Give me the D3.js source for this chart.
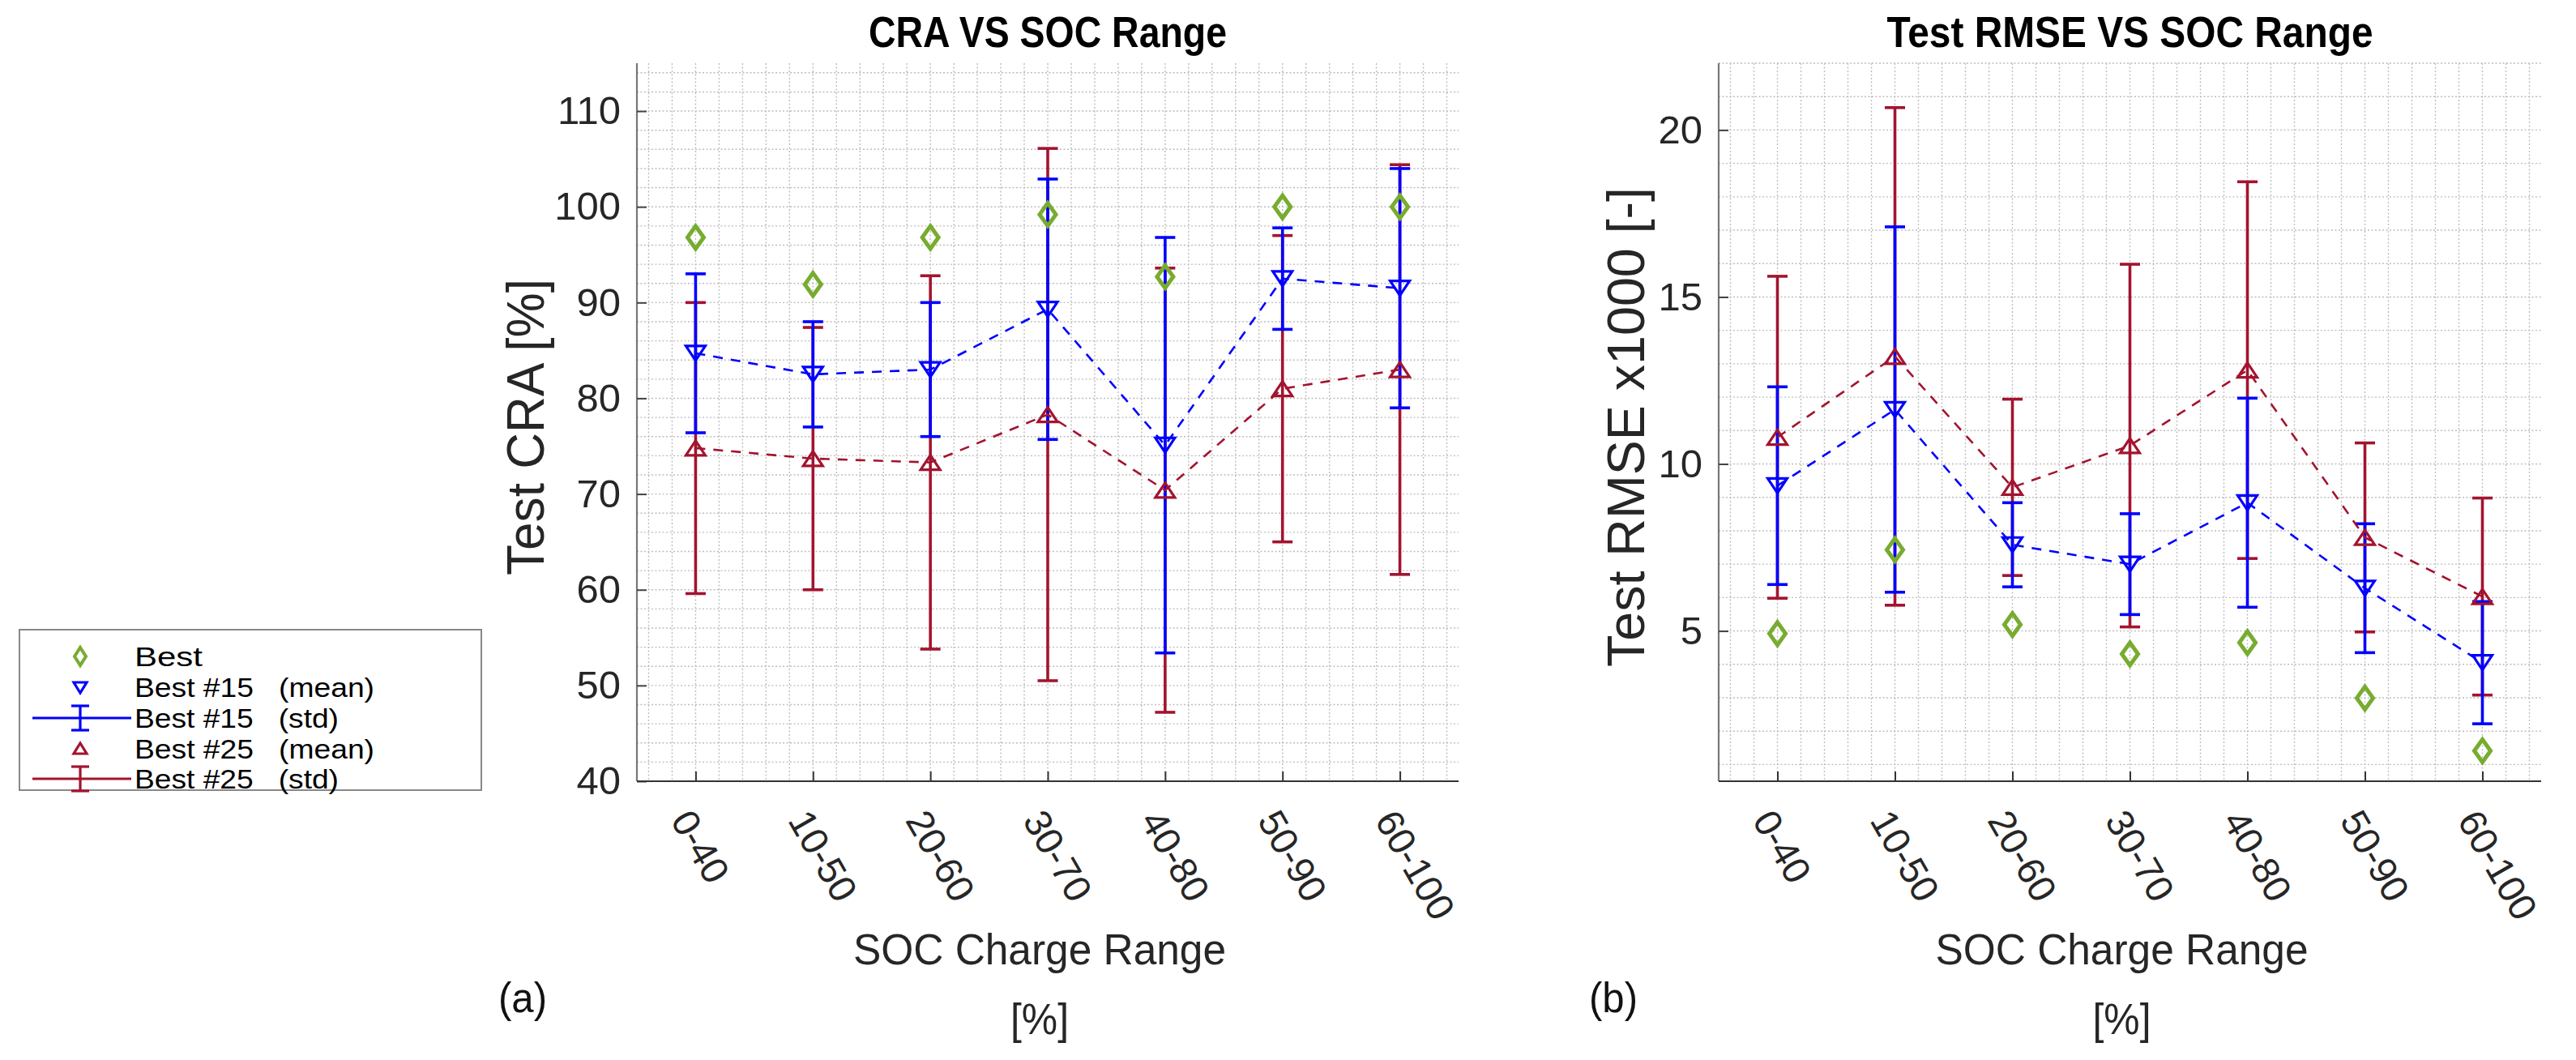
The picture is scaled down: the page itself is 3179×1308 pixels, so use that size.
<!DOCTYPE html>
<html><head><meta charset="utf-8">
<script src="https://cdn.jsdelivr.net/npm/d3@7"></script>
<style>
html,body{margin:0;padding:0;background:#fff;}
text{font-family:"Liberation Sans",Arial,sans-serif;}
</style></head>
<body>
<svg id="chart" width="3179" height="1308"></svg>
<script>
// ---------- data ----------
const categories = ["0-40","10-50","20-60","30-70","40-80","50-90","60-100"];

// (a) CRA [%]
const craBest   = [96.8, 91.9, 96.8, 99.2, 92.7, 100.0, 100.0];
const cra15Mean = [84.7, 82.5, 83.0, 89.3, 75.1, 92.5, 91.5];
const cra15Std  = [8.3, 5.5, 7.0, 13.6, 21.7, 5.3, 12.5];
const cra25Mean = [74.8, 73.7, 73.3, 78.3, 70.4, 81.0, 83.0];
const cra25Std  = [15.2, 13.7, 19.5, 27.8, 23.2, 16.0, 21.4];

// (b) RMSE x1000
const rmseBest   = [4.92, 7.43, 5.19, 4.31, 4.65, 2.99, 1.41];
const rmse15Mean = [9.35, 11.63, 7.58, 7.00, 8.84, 6.28, 4.05];
const rmse15Std  = [2.96, 5.47, 1.26, 1.51, 3.13, 1.93, 1.83];
const rmse25Mean = [10.80, 13.22, 9.30, 10.55, 12.81, 7.80, 6.03];
const rmse25Std  = [4.82, 7.45, 2.64, 5.43, 5.64, 2.83, 2.95];

const craTicks  = [40,50,60,70,80,90,100,110];
const rmseTicks = [5,10,15,20];

const legendLabels = ["Best","Best #15\u00A0\u00A0\u00A0(mean)","Best #15\u00A0\u00A0\u00A0(std)","Best #25\u00A0\u00A0\u00A0(mean)","Best #25\u00A0\u00A0\u00A0(std)"];

// ---------- style ----------
const BLUE = "#0000ff", RED = "#a2142f", GREEN = "#77ac30";
const svg = d3.select("#chart");

const triDown = "M-12,-9L12,-9L0,9Z";
const triUp   = "M-12,9L12,9L0,-9Z";
const diamond = "M0,-14L10,0L0,14L-10,0Z";

function panel(cfg){
  const x = d3.scaleLinear().domain([0.5,7.5]).range([cfg.left, cfg.right]);
  const y = d3.scaleLinear().domain(cfg.ydom).range([cfg.bottom, cfg.top]);
  const g = svg.append("g");

  // grid
  const grid = g.append("g").attr("stroke","#bdbdbd").attr("stroke-width",1.4).attr("stroke-dasharray","2,2.5");
  const xg = d3.range(6, 75, 2).map(v=>v/10);
  grid.selectAll(".gx").data(xg).join("line")
    .attr("x1",d=>x(d)).attr("x2",d=>x(d)).attr("y1",cfg.top).attr("y2",cfg.bottom);
  grid.selectAll(".gy").data(cfg.minor).join("line")
    .attr("y1",d=>y(d)).attr("y2",d=>y(d)).attr("x1",cfg.left).attr("x2",cfg.right);

  // axes
  const ya = g.append("g").attr("transform",`translate(${cfg.left},0)`)
    .call(d3.axisLeft(y).tickValues(cfg.ticks).tickSize(-12).tickPadding(20).tickSizeOuter(0));
  ya.select(".domain").attr("stroke","#777").attr("stroke-width",2.2).attr("d",`M0,${cfg.top}V${cfg.bottom}`);
  ya.selectAll(".tick line").attr("stroke","#444").attr("stroke-width",2);
  ya.selectAll(".tick text").attr("font-size",49).attr("fill","#262626");

  const xa = g.append("g").attr("transform",`translate(0,${cfg.bottom})`)
    .call(d3.axisBottom(x).tickValues(d3.range(1,8)).tickFormat(i=>categories[i-1]).tickSize(-12).tickSizeOuter(0));
  xa.select(".domain").attr("stroke","#333").attr("stroke-width",2.2).attr("d",`M${cfg.left},0H${cfg.right}`);
  xa.selectAll(".tick line").attr("stroke","#333").attr("stroke-width",2);
  xa.selectAll(".tick text").attr("font-size",47).attr("fill","#262626")
    .attr("text-anchor","start").attr("dy","0.35em")
    .attr("y",0).attr("transform","translate(-18,40) rotate(60)");

  const idx = d3.range(7);
  // error bars
  function errbars(mean, std, color){
    const eb = g.append("g").attr("stroke",color).attr("stroke-width",3.6).attr("fill","none");
    idx.forEach(i=>{
      const cx = x(i+1), y1 = y(mean[i]+std[i]), y0 = y(mean[i]-std[i]);
      eb.append("line").attr("x1",cx).attr("x2",cx).attr("y1",y1).attr("y2",y0);
      eb.append("line").attr("x1",cx-12.5).attr("x2",cx+12.5).attr("y1",y1).attr("y2",y1);
      eb.append("line").attr("x1",cx-12.5).attr("x2",cx+12.5).attr("y1",y0).attr("y2",y0);
    });
  }
  errbars(cfg.m25, cfg.s25, RED);
  errbars(cfg.m15, cfg.s15, BLUE);

  const line = d3.line().x((d,i)=>x(i+1)).y(d=>y(d));
  g.append("path").datum(cfg.m25).attr("d",line).attr("fill","none").attr("stroke",RED).attr("stroke-width",2.6).attr("stroke-dasharray","12,10");
  g.append("path").datum(cfg.m15).attr("d",line).attr("fill","none").attr("stroke",BLUE).attr("stroke-width",2.6).attr("stroke-dasharray","12,10");

  g.selectAll(".t25").data(cfg.m25).join("path").attr("d",triUp)
    .attr("transform",(d,i)=>`translate(${x(i+1)},${y(d)})`).attr("fill","none").attr("stroke",RED).attr("stroke-width",3.2);
  g.selectAll(".t15").data(cfg.m15).join("path").attr("d",triDown)
    .attr("transform",(d,i)=>`translate(${x(i+1)},${y(d)})`).attr("fill","none").attr("stroke",BLUE).attr("stroke-width",3.2);
  g.selectAll(".best").data(cfg.best).join("path").attr("d",diamond)
    .attr("transform",(d,i)=>`translate(${x(i+1)},${y(d)})`).attr("fill","none").attr("stroke",GREEN).attr("stroke-width",5);

  // texts
  const cxm = (cfg.left+cfg.right)/2;
  g.append("text").attr("x",cxm).attr("y",58).attr("text-anchor","middle").attr("font-size",54).attr("font-weight","bold")
    .attr("textLength",cfg.titleLen).attr("lengthAdjust","spacingAndGlyphs").text(cfg.title);
  g.append("text").attr("transform",`translate(${cfg.ylabX},${(cfg.top+cfg.bottom)/2+6}) rotate(-90)`).attr("text-anchor","middle")
    .attr("dy","0.35em").attr("font-size",64).attr("fill","#262626")
    .attr("textLength",cfg.ylabLen).attr("lengthAdjust","spacingAndGlyphs").text(cfg.ylabel);
  g.append("text").attr("x",cxm-10).attr("y",1190).attr("text-anchor","middle").attr("font-size",54).attr("fill","#262626")
    .attr("textLength",460).attr("lengthAdjust","spacingAndGlyphs").text("SOC Charge Range");
  g.append("text").attr("x",cxm-10).attr("y",1276).attr("text-anchor","middle").attr("font-size",54).attr("fill","#262626")
    .attr("textLength",72).attr("lengthAdjust","spacingAndGlyphs").text("[%]");
  g.append("text").attr("x",cfg.tagX).attr("y",1231).attr("dy","0.35em").attr("text-anchor","middle").attr("font-size",52).attr("fill","#111")
    .attr("textLength",60).attr("lengthAdjust","spacingAndGlyphs").text(cfg.tag);
}

panel({left:786,right:1800,top:78,bottom:964,ydom:[40,115],ticks:craTicks,minor:d3.range(42,115,2),
  best:craBest,m15:cra15Mean,s15:cra15Std,m25:cra25Mean,s25:cra25Std,
  title:"CRA VS SOC Range",titleLen:442,ylabel:"Test CRA [%]",ylabLen:366,ylabX:649,tag:"(a)",tagX:645});
panel({left:2121,right:3136,top:78,bottom:964,ydom:[0.5,22],ticks:rmseTicks,minor:d3.range(1,23,1),
  best:rmseBest,m15:rmse15Mean,s15:rmse15Std,m25:rmse25Mean,s25:rmse25Std,
  title:"Test RMSE VS SOC Range",titleLen:600,ylabel:"Test RMSE x1000 [-]",ylabLen:592,ylabX:2007,tag:"(b)",tagX:1991});

// ---------- legend ----------
const lg = svg.append("g");
lg.append("rect").attr("x",24).attr("y",777).attr("width",570).attr("height",198).attr("fill","#fff").attr("stroke","#888").attr("stroke-width",2);
const rowY = [810,848,886,924,961];
const sx = 99;
lg.selectAll(".lt").data(legendLabels).join("text").attr("x",166).attr("y",(d,i)=>rowY[i]).attr("dy","0.36em")
  .attr("font-size",34).attr("fill","#000")
  .attr("textLength",(d,i)=>[84,296,252,296,252][i]).attr("lengthAdjust","spacingAndGlyphs").text(d=>d);
lg.append("path").attr("d","M0,-11L7,0L0,11L-7,0Z").attr("transform",`translate(${sx},${rowY[0]})`).attr("fill","none").attr("stroke",GREEN).attr("stroke-width",4);
lg.append("path").attr("d","M-8,-6L8,-6L0,7Z").attr("transform",`translate(${sx},${rowY[1]})`).attr("fill","none").attr("stroke",BLUE).attr("stroke-width",3.2);
lg.append("path").attr("d","M-8,6L8,6L0,-7Z").attr("transform",`translate(${sx},${rowY[3]})`).attr("fill","none").attr("stroke",RED).attr("stroke-width",3.2);
[[rowY[2],BLUE],[rowY[4],RED]].forEach(([yy,c])=>{
  const e = lg.append("g").attr("stroke",c).attr("stroke-width",3.2);
  e.append("line").attr("x1",40).attr("x2",162).attr("y1",yy).attr("y2",yy);
  e.append("line").attr("x1",sx).attr("x2",sx).attr("y1",yy-15).attr("y2",yy+15);
  e.append("line").attr("x1",sx-11).attr("x2",sx+11).attr("y1",yy-15).attr("y2",yy-15);
  e.append("line").attr("x1",sx-11).attr("x2",sx+11).attr("y1",yy+15).attr("y2",yy+15);
});
</script>
</body></html>
